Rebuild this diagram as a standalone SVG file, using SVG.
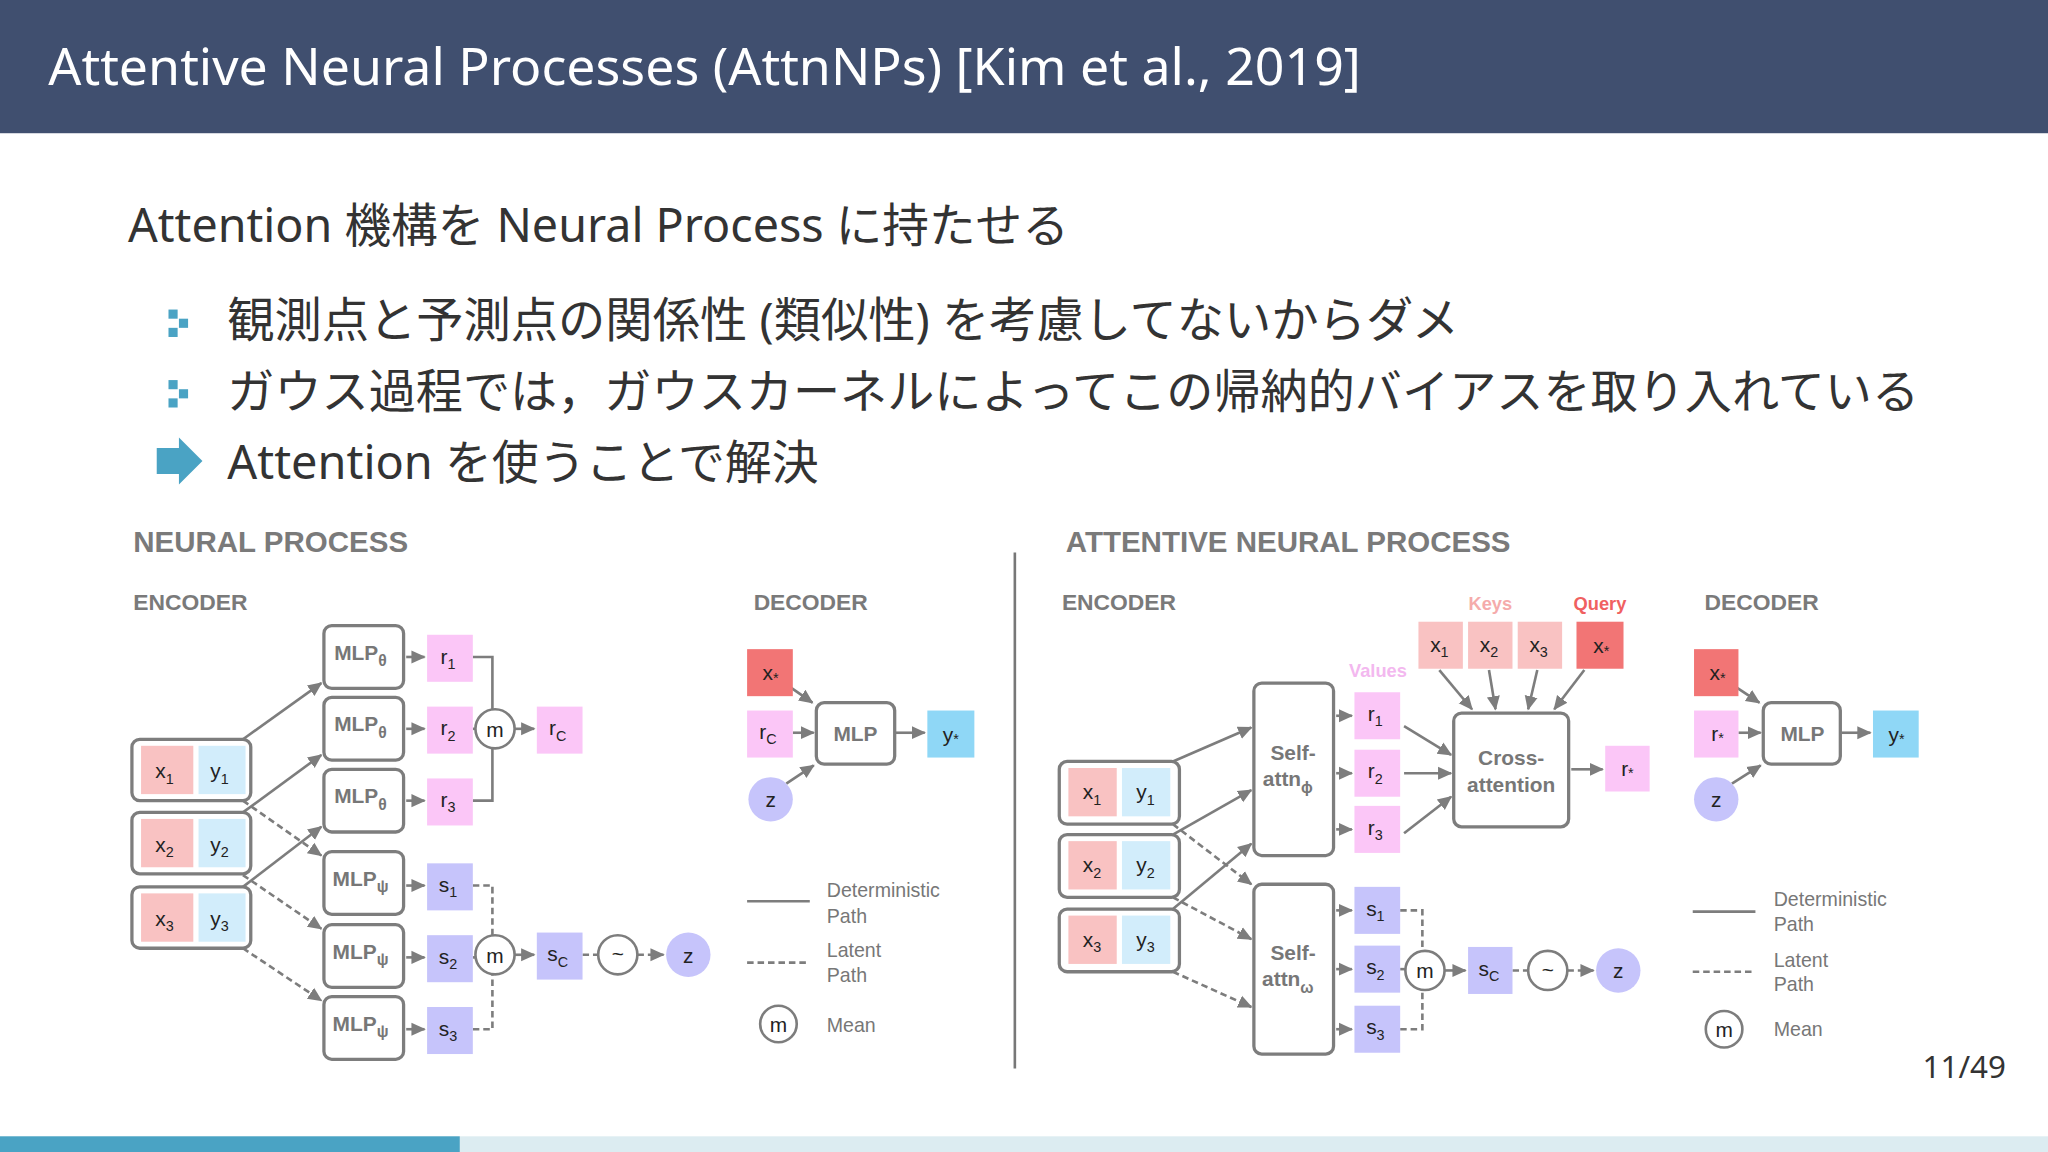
<svg xmlns="http://www.w3.org/2000/svg" width="2048" height="1152" viewBox="0 0 2048 1152">
<defs>
<style>
.t{font-family:"Noto Sans","Noto Sans CJK JP",sans-serif;fill:#333}
.h{font-family:"Liberation Sans",Arial,sans-serif;font-weight:bold;fill:#7a7a7a}
.l{font-family:"Liberation Sans",Arial,sans-serif;fill:#222;font-size:16px;text-anchor:middle}
.g{font-family:"Liberation Sans",Arial,sans-serif;fill:#777;font-size:15px}
.b{fill:#fff;stroke:#7d7d7d;stroke-width:2.5}
.c{stroke:#7d7d7d;stroke-width:2;fill:none}
.a{stroke:#7d7d7d;stroke-width:2;fill:none;marker-end:url(#ar)}
.d{stroke:#7d7d7d;stroke-width:2;fill:none;stroke-dasharray:5 3}
.da{stroke:#7d7d7d;stroke-width:2;fill:none;stroke-dasharray:5 3;marker-end:url(#ar)}
.px{fill:#f9c2c2}.py{fill:#d2edfb}.pr{fill:#fbc6f7}.ps{fill:#c6c4fb}.pq{fill:#f27575}.pyy{fill:#8fd7f6}
.cir{fill:#fff;stroke:#7d7d7d;stroke-width:2}
.ml{font-family:"Liberation Sans",Arial,sans-serif;font-weight:bold;fill:#777;font-size:16px;text-anchor:middle}
</style>
<marker id="ar" markerUnits="userSpaceOnUse" markerWidth="12" markerHeight="12" refX="10" refY="6" orient="auto"><path d="M0,1 L11,6 L0,11 Z" fill="#7d7d7d"/></marker>
</defs>
<rect width="2048" height="1152" fill="#fff"/>
<g transform="scale(1.306122)">
<rect x="0" y="0" width="1568" height="102" fill="#404f6f"/>
<text x="37" y="65" font-family="'Noto Sans','Open Sans',sans-serif" font-size="39.7" fill="#fff">Attentive Neural Processes (AttnNPs) [Kim et al., 2019]</text>
<rect x="0" y="870" width="1568" height="12" fill="#dcecf1"/>
<rect x="0" y="870" width="352" height="12" fill="#4aa3c4"/>
<text class="t" x="98" y="185" font-size="35.7">Attention 機構を Neural Process に持たせる</text>
<g fill="#4aa3c4">
<rect x="129" y="237" width="7" height="7"/><rect x="137" y="244" width="7" height="7"/><rect x="129" y="251" width="7" height="7"/>
<rect x="129" y="291" width="7" height="7"/><rect x="137" y="298" width="7" height="7"/><rect x="129" y="305" width="7" height="7"/>
<path d="M120,343 H137 V335 L155,353 L137,371 V363 H120 Z"/>
</g>
<text class="t" x="174" y="258" font-size="36.2">観測点と予測点の関係性 (類似性) を考慮してないからダメ</text>
<text class="t" x="174" y="312" font-size="36.1">ガウス過程では，ガウスカーネルによってこの帰納的バイアスを取り入れている</text>
<text class="t" x="174" y="367" font-size="35.9">Attention を使うことで解決</text>
<text x="1472" y="825" font-family="'Noto Sans',sans-serif" font-size="24" fill="#333">11/49</text>

<line x1="777" y1="423" x2="777" y2="818" stroke="#777" stroke-width="2"/>

<!-- LEFT -->
<text class="h" x="102" y="423" font-size="22.6">NEURAL PROCESS</text>
<text class="h" x="102" y="467" font-size="17.5">ENCODER</text>
<text class="h" x="577" y="467" font-size="17.5">DECODER</text>

<g id="connectors">
<path class="a" d="M186,566 L246,523"/><path class="a" d="M186,622 L246,578"/><path class="a" d="M186,679 L246,633"/>
<path class="da" d="M186,613 L246,655"/><path class="da" d="M186,670 L246,711"/><path class="da" d="M186,726 L246,766"/>
<path class="a" d="M311,503 L325,503"/><path class="a" d="M311,558 L325,558"/><path class="a" d="M311,613 L325,613"/>
<path class="a" d="M311,678 L325,678"/><path class="a" d="M311,733 L325,733"/><path class="a" d="M311,788 L325,788"/>
<path class="c" d="M362,503 H377 V543"/><path class="c" d="M362,613 H377 V573"/><path class="c" d="M362,558 H364"/>
<path class="a" d="M394,558 L409,558"/>
<path class="d" d="M362,678 H377 V716"/><path class="d" d="M362,788 H377 V746"/><path class="d" d="M362,733 H364"/>
<path class="a" d="M394,731 L409,731"/>
<path class="d" d="M446,731 L458,731"/><path class="da" d="M488,731 L508,731"/>
<path class="a" d="M602,524 L622,538"/><path class="a" d="M607,561 L623,561"/><path class="a" d="M602,600 L623,586"/>
<path class="a" d="M686,561 L708,561"/>
<path class="a" d="M898,583 L958,557"/><path class="a" d="M898,639 L958,605"/><path class="a" d="M898,696 L958,646"/>
<path class="da" d="M898,631 L958,677"/><path class="da" d="M898,687 L958,719"/><path class="da" d="M898,744 L958,771"/>
<path class="a" d="M1023,548 L1035,548"/><path class="a" d="M1023,592 L1035,592"/><path class="a" d="M1023,635 L1035,635"/>
<path class="a" d="M1023,697 L1035,697"/><path class="a" d="M1023,742 L1035,742"/><path class="a" d="M1023,788 L1035,788"/>
<path class="a" d="M1075,556 L1111,578"/><path class="a" d="M1075,592 L1111,592"/><path class="a" d="M1075,638 L1111,610"/>
<path class="a" d="M1102,513 L1127,543"/><path class="a" d="M1140,513 L1145,543"/><path class="a" d="M1177,513 L1170,543"/><path class="a" d="M1213,513 L1190,543"/>
<path class="a" d="M1203,589 L1227,589"/>
<path class="d" d="M1072,697 H1089 V728"/><path class="d" d="M1072,788 H1089 V758"/><path class="d" d="M1072,742 H1076"/>
<path class="a" d="M1106,743 L1122,743"/>
<path class="d" d="M1158,743 L1170,743"/><path class="da" d="M1200,743 L1220,743"/>
<path class="a" d="M1326,524 L1347,538"/><path class="a" d="M1331,561 L1348,561"/><path class="a" d="M1326,600 L1348,586"/>
<path class="a" d="M1410,561 L1432,561"/>
</g>

<g id="np-pairs">
<rect class="b" x="101" y="566" width="91" height="47" rx="6"/><rect class="px" x="108" y="571" width="40" height="37"/><rect class="py" x="152" y="571" width="36" height="37"/>
<text class="l" x="126" y="596">x<tspan font-size="11" dy="4">1</tspan></text><text class="l" x="168" y="596">y<tspan font-size="11" dy="4">1</tspan></text>
<rect class="b" x="101" y="622" width="91" height="47" rx="6"/><rect class="px" x="108" y="627" width="40" height="37"/><rect class="py" x="152" y="627" width="36" height="37"/>
<text class="l" x="126" y="652">x<tspan font-size="11" dy="4">2</tspan></text><text class="l" x="168" y="652">y<tspan font-size="11" dy="4">2</tspan></text>
<rect class="b" x="101" y="679" width="91" height="47" rx="6"/><rect class="px" x="108" y="684" width="40" height="37"/><rect class="py" x="152" y="684" width="36" height="37"/>
<text class="l" x="126" y="709">x<tspan font-size="11" dy="4">3</tspan></text><text class="l" x="168" y="709">y<tspan font-size="11" dy="4">3</tspan></text>
</g>
<g id="np-mlps">
<rect class="b" x="248" y="479" width="61" height="48" rx="6"/><text class="ml" x="276" y="505">MLP<tspan font-size="12" dy="5">θ</tspan></text>
<rect class="b" x="248" y="534" width="61" height="48" rx="6"/><text class="ml" x="276" y="560">MLP<tspan font-size="12" dy="5">θ</tspan></text>
<rect class="b" x="248" y="589" width="61" height="48" rx="6"/><text class="ml" x="276" y="615">MLP<tspan font-size="12" dy="5">θ</tspan></text>
<rect class="b" x="248" y="652" width="61" height="48" rx="6"/><text class="ml" x="276" y="678">MLP<tspan font-size="12" dy="5">ψ</tspan></text>
<rect class="b" x="248" y="708" width="61" height="48" rx="6"/><text class="ml" x="276" y="734">MLP<tspan font-size="12" dy="5">ψ</tspan></text>
<rect class="b" x="248" y="763" width="61" height="48" rx="6"/><text class="ml" x="276" y="789">MLP<tspan font-size="12" dy="5">ψ</tspan></text>
</g>
<g id="np-rs">
<rect class="pr" x="327" y="486" width="35" height="36"/><text class="l" x="343" y="508">r<tspan font-size="11" dy="4">1</tspan></text>
<rect class="pr" x="327" y="541" width="35" height="36"/><text class="l" x="343" y="563">r<tspan font-size="11" dy="4">2</tspan></text>
<rect class="pr" x="327" y="596" width="35" height="36"/><text class="l" x="343" y="618">r<tspan font-size="11" dy="4">3</tspan></text>
<rect class="ps" x="327" y="661" width="35" height="36"/><text class="l" x="343" y="683">s<tspan font-size="11" dy="4">1</tspan></text>
<rect class="ps" x="327" y="716" width="35" height="36"/><text class="l" x="343" y="738">s<tspan font-size="11" dy="4">2</tspan></text>
<rect class="ps" x="327" y="771" width="35" height="36"/><text class="l" x="343" y="793">s<tspan font-size="11" dy="4">3</tspan></text>
<circle class="cir" cx="379" cy="558" r="15"/><text class="l" x="379" y="564" fill="#555">m</text>
<rect class="pr" x="411" y="541" width="35" height="36"/><text class="l" x="427" y="563">r<tspan font-size="11" dy="4">C</tspan></text>
<circle class="cir" cx="379" cy="731" r="15"/><text class="l" x="379" y="737" fill="#555">m</text>
<rect class="ps" x="411" y="714" width="35" height="36"/><text class="l" x="427" y="736">s<tspan font-size="11" dy="4">C</tspan></text>
<circle class="cir" cx="473" cy="731" r="15"/><text class="l" x="473" y="736" fill="#555">~</text>
<circle class="ps" cx="527" cy="731" r="17"/><text class="l" x="527" y="737">z</text>
</g>
<g id="np-decoder">
<rect class="pq" x="572" y="497" width="35" height="36"/><text class="l" x="590" y="521">x<tspan font-size="11" dy="2">*</tspan></text>
<rect class="pr" x="572" y="544" width="35" height="36"/><text class="l" x="588" y="566">r<tspan font-size="11" dy="4">C</tspan></text>
<circle class="ps" cx="590" cy="612" r="17"/><text class="l" x="590" y="618">z</text>
<rect class="b" x="625" y="538" width="60" height="47" rx="6"/><text class="ml" x="655" y="567">MLP</text>
<rect class="pyy" x="710" y="544" width="36" height="36"/><text class="l" x="728" y="568">y<tspan font-size="11" dy="2">*</tspan></text>
</g>
<g id="np-legend">
<line class="c" x1="572" y1="690" x2="620" y2="690"/><text class="g" x="633" y="687">Deterministic</text><text class="g" x="633" y="707">Path</text>
<line class="d" x1="572" y1="737" x2="620" y2="737"/><text class="g" x="633" y="733">Latent</text><text class="g" x="633" y="752">Path</text>
<circle class="cir" cx="596" cy="784" r="14"/><text class="l" x="596" y="790" fill="#555">m</text><text class="g" x="633" y="790">Mean</text>
</g>

<!-- RIGHT -->
<text class="h" x="816" y="423" font-size="22.6">ATTENTIVE NEURAL PROCESS</text>
<text class="h" x="813" y="467" font-size="17.5">ENCODER</text>
<text class="h" x="1305" y="467" font-size="17.5">DECODER</text>
<g id="anp-pairs">
<rect class="b" x="811" y="583" width="92" height="48" rx="6"/><rect class="px" x="818" y="588" width="37" height="37"/><rect class="py" x="859" y="588" width="37" height="37"/>
<text class="l" x="836" y="612">x<tspan font-size="11" dy="4">1</tspan></text><text class="l" x="877" y="612">y<tspan font-size="11" dy="4">1</tspan></text>
<rect class="b" x="811" y="639" width="92" height="48" rx="6"/><rect class="px" x="818" y="644" width="37" height="37"/><rect class="py" x="859" y="644" width="37" height="37"/>
<text class="l" x="836" y="668">x<tspan font-size="11" dy="4">2</tspan></text><text class="l" x="877" y="668">y<tspan font-size="11" dy="4">2</tspan></text>
<rect class="b" x="811" y="696" width="92" height="48" rx="6"/><rect class="px" x="818" y="701" width="37" height="37"/><rect class="py" x="859" y="701" width="37" height="37"/>
<text class="l" x="836" y="725">x<tspan font-size="11" dy="4">3</tspan></text><text class="l" x="877" y="725">y<tspan font-size="11" dy="4">3</tspan></text>
</g>
<g id="self-attn">
<rect class="b" x="960" y="523" width="61" height="132" rx="6"/><text class="ml" x="990" y="582">Self-</text><text class="ml" x="986" y="602">attn<tspan font-size="12" dy="5">ϕ</tspan></text>
<rect class="b" x="960" y="677" width="61" height="130" rx="6"/><text class="ml" x="990" y="735">Self-</text><text class="ml" x="986" y="755">attn<tspan font-size="12" dy="5">ω</tspan></text>
</g>
<g id="anp-rs">
<text x="1055" y="518" font-family="'Liberation Sans',Arial,sans-serif" font-weight="bold" font-size="14" fill="#f3b8ef" text-anchor="middle">Values</text>
<rect class="pr" x="1037" y="530" width="35" height="36"/><text class="l" x="1053" y="552">r<tspan font-size="11" dy="4">1</tspan></text>
<rect class="pr" x="1037" y="574" width="35" height="36"/><text class="l" x="1053" y="596">r<tspan font-size="11" dy="4">2</tspan></text>
<rect class="pr" x="1037" y="617" width="35" height="36"/><text class="l" x="1053" y="639">r<tspan font-size="11" dy="4">3</tspan></text>
<rect class="ps" x="1037" y="679" width="35" height="36"/><text class="l" x="1053" y="701">s<tspan font-size="11" dy="4">1</tspan></text>
<rect class="ps" x="1037" y="724" width="35" height="36"/><text class="l" x="1053" y="746">s<tspan font-size="11" dy="4">2</tspan></text>
<rect class="ps" x="1037" y="770" width="35" height="36"/><text class="l" x="1053" y="792">s<tspan font-size="11" dy="4">3</tspan></text>
</g>
<g id="keys-query">
<text x="1141" y="467" font-family="'Liberation Sans',Arial,sans-serif" font-weight="bold" font-size="14" fill="#f5abab" text-anchor="middle">Keys</text>
<text x="1225" y="467" font-family="'Liberation Sans',Arial,sans-serif" font-weight="bold" font-size="14" fill="#f06060" text-anchor="middle">Query</text>
<rect class="px" x="1086" y="476" width="34" height="36"/><text class="l" x="1102" y="499">x<tspan font-size="11" dy="4">1</tspan></text>
<rect class="px" x="1124" y="476" width="34" height="36"/><text class="l" x="1140" y="499">x<tspan font-size="11" dy="4">2</tspan></text>
<rect class="px" x="1162" y="476" width="34" height="36"/><text class="l" x="1178" y="499">x<tspan font-size="11" dy="4">3</tspan></text>
<rect class="pq" x="1207" y="476" width="36" height="36" fill="#f37a7a"/><text class="l" x="1226" y="500">x<tspan font-size="11" dy="2">*</tspan></text>
</g>
<g id="cross-attn">
<rect class="b" x="1113" y="546" width="88" height="87" rx="6"/><text class="ml" x="1157" y="586">Cross-</text><text class="ml" x="1157" y="606">attention</text>
<rect class="pr" x="1229" y="571" width="34" height="35"/><text class="l" x="1246" y="594">r<tspan font-size="11" dy="2">*</tspan></text>
</g>
<g id="anp-latent">
<circle class="cir" cx="1091" cy="743" r="15"/><text class="l" x="1091" y="749" fill="#555">m</text>
<rect class="ps" x="1124" y="725" width="34" height="36"/><text class="l" x="1140" y="747">s<tspan font-size="11" dy="4">C</tspan></text>
<circle class="cir" cx="1185" cy="743" r="15"/><text class="l" x="1185" y="748" fill="#555">~</text>
<circle class="ps" cx="1239" cy="743" r="17"/><text class="l" x="1239" y="749">z</text>
</g>
<g id="anp-decoder">
<rect class="pq" x="1297" y="497" width="34" height="36"/><text class="l" x="1315" y="521">x<tspan font-size="11" dy="2">*</tspan></text>
<rect class="pr" x="1297" y="544" width="34" height="36"/><text class="l" x="1315" y="567">r<tspan font-size="11" dy="2">*</tspan></text>
<circle class="ps" cx="1314" cy="612" r="17"/><text class="l" x="1314" y="618">z</text>
<rect class="b" x="1350" y="538" width="59" height="47" rx="6"/><text class="ml" x="1380" y="567">MLP</text>
<rect class="pyy" x="1434" y="544" width="35" height="36"/><text class="l" x="1452" y="568">y<tspan font-size="11" dy="2">*</tspan></text>
</g>
<g id="anp-legend">
<line class="c" x1="1296" y1="698" x2="1344" y2="698"/><text class="g" x="1358" y="694">Deterministic</text><text class="g" x="1358" y="713">Path</text>
<line class="d" x1="1296" y1="744" x2="1344" y2="744"/><text class="g" x="1358" y="740">Latent</text><text class="g" x="1358" y="759">Path</text>
<circle class="cir" cx="1320" cy="788" r="14"/><text class="l" x="1320" y="794" fill="#555">m</text><text class="g" x="1358" y="793">Mean</text>
</g>
</g>
</svg>
